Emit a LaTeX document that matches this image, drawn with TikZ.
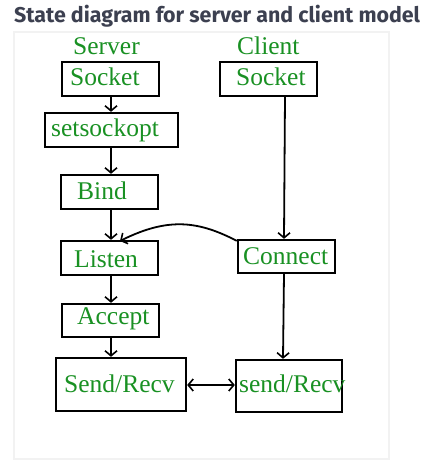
\documentclass[tikz,border=0pt]{standalone}
\usepackage{fontspec}
\setmainfont{Liberation Serif}
\newfontfamily\titlefont{Fira Sans}
\usetikzlibrary{arrows.meta}
\definecolor{txtgreen}{RGB}{25,145,35}
\definecolor{titlegray}{RGB}{60,64,80}
\tikzset{
  box/.style={draw=black, line width=2.4pt, fill=white, inner sep=0pt},
  lbl/.style={anchor=base west, inner sep=0pt, text=txtgreen, font=\fontsize{25.5}{28}\selectfont},
  conn/.style={draw=black, line width=1.8pt, -{Straight Barb[length=5pt,width=12pt,line width=1.6pt]}},
}
\newcommand{\boxat}[5]{% name, x1, y1, x2, y2
  \node[box, minimum width={(#4)-(#2)}, minimum height={(#5)-(#3)}] (#1) at ({((#2)+(#4))/2},{((#3)+(#5))/2}) {};}
\begin{document}
\begin{tikzpicture}[x=1pt,y=-1pt]
\useasboundingbox (0,0) rectangle (428,464);
\fill[white] (0,0) rectangle (428,464);
% card
\draw[black!5, line width=1.5pt, fill=white] (14,32) rectangle (389,459);
% title
\node[anchor=base west, inner sep=0pt, text=titlegray, font=\titlefont\bfseries\fontsize{21.4}{24}\selectfont] (title) at (14,22.5) {State diagram for server and client model};
% headers
\node[lbl] (hserver) at (73,54) {Server};
\node[lbl] (hclient) at (237,54) {Client};
% boxes
\boxat{ssock}{62}{62}{159}{96}
\boxat{csock}{220}{62}{317}{96}
\boxat{sopt}{45}{113}{178}{147}
\boxat{bind}{61}{175}{158}{209}
\boxat{listen}{61}{241}{158}{275}
\boxat{connect}{238}{240}{335}{273}
\boxat{accept}{62}{304}{159}{337}
\boxat{ssr}{56}{358}{186}{411}
\boxat{csr}{236}{360}{342}{412}
% labels
\node[lbl] (tssock) at (70,85) {Socket};
\node[lbl] (tcsock) at (236,85) {Socket};
\node[lbl] (tsopt) at (51,136) {setsockopt};
\node[lbl] (tbind) at (77,199) {Bind};
\node[lbl] (tlisten) at (74,267) {Listen};
\node[lbl] (tconnect) at (243,264) {Connect};
\node[lbl] (taccept) at (77,324) {Accept};
\node[lbl] (tssr) at (64,392) {Send/Recv};
\node[lbl] (tcsr) at (239,392) {send/Recv};
% connectors
\draw[conn] (ssock.south -| 111,0) -- (sopt.north -| 111,0);
\draw[conn] (sopt.south -| 111,0) -- (bind.north -| 111,0);
\draw[conn] (bind.south -| 111,0) -- (listen.north -| 111,0);
\draw[conn] (listen.south -| 111,0) -- (accept.north -| 111,0);
\draw[conn] (accept.south -| 111,0) -- (ssr.north -| 111,0);
\draw[conn] (csock.south -| 285,0) -- (connect.north -| 284,0);
\draw[conn] (connect.south -| 284,0) -- (csr.north -| 283,0);
\coordinate (lt) at (120,241);
\draw[conn] ([yshift=-2pt]connect.north west) .. controls (200,222) and (170,216) .. (lt);
\draw[conn, {Straight Barb[length=5pt,width=12pt,line width=1.6pt]}-{Straight Barb[length=5pt,width=12pt,line width=1.6pt]}] (ssr.east |- 0,385) -- (csr.west |- 0,385);
\end{tikzpicture}
\end{document}
